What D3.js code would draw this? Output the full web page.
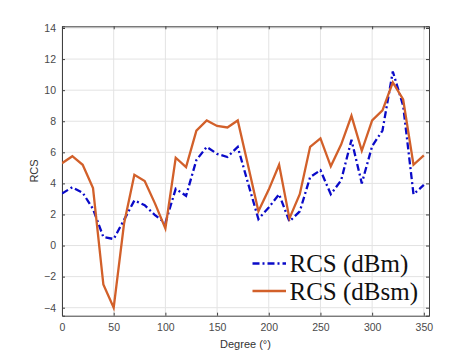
<!DOCTYPE html>
<html><head><meta charset="utf-8">
<script src="https://cdn.jsdelivr.net/npm/d3@7"></script>
<style>body{margin:0;background:#fff;} svg{display:block;}</style>
</head><body>
<svg id="c" width="474" height="355"></svg>
<script>
const degrees = [0,10,20,30,40,50,60,70,80,90,100,110,120,130,140,150,160,170,180,190,200,210,220,230,240,250,260,270,280,290,300,310,320,330,340,350];
const rcsDbm  = [3.35,3.75,3.4,2.35,0.55,0.42,1.65,2.9,2.6,1.95,1.45,3.65,3.2,5.5,6.35,5.9,5.7,6.35,4.0,1.7,2.45,3.3,1.55,2.2,4.4,4.85,3.3,4.2,6.8,4.0,6.4,7.4,11.2,9.0,3.3,3.9];
const rcsDbsm = [5.3,5.75,5.2,3.7,-2.5,-4.0,1.4,4.55,4.15,2.7,1.1,5.65,5.05,7.4,8.05,7.7,7.6,8.05,5.15,2.2,3.6,5.2,1.75,3.3,6.35,6.9,5.1,6.5,8.35,6.1,8.05,8.7,10.5,9.4,5.2,5.8];
const xTicks = [0,50,100,150,200,250,300,350];
const yTicks = [-4,-2,0,2,4,6,8,10,12,14];
const seriesNames = ["RCS (dBm)","RCS (dBsm)"];

const svg = d3.select("#c");
const L=62, R=429, T=26.3, B=315.7;
const x = d3.scaleLinear().domain([0,355]).range([L,R]);
const y = d3.scaleLinear().domain([-4.515,14.11]).range([B,T]);
const font = "'Liberation Sans', Arial, sans-serif";

// grid
const g = svg.append("g");
g.selectAll(".gx").data(xTicks).enter().append("line")
  .attr("x1",d=>x(d)).attr("x2",d=>x(d)).attr("y1",T).attr("y2",B)
  .attr("stroke","#e3e3e3").attr("stroke-width",1);
g.selectAll(".gy").data(yTicks).enter().append("line")
  .attr("y1",d=>y(d)).attr("y2",d=>y(d)).attr("x1",L).attr("x2",R)
  .attr("stroke","#e3e3e3").attr("stroke-width",1);

// axes (ticks inward)
const axB = d3.axisBottom(x).tickValues(xTicks).tickSize(-3).tickPadding(8);
const axL = d3.axisLeft(y).tickValues(yTicks).tickSize(-3).tickPadding(6);
const axT = d3.axisTop(x).tickValues(xTicks).tickSize(-3).tickFormat("");
const axR = d3.axisRight(y).tickValues(yTicks).tickSize(-3).tickFormat("");
function style(sel){
  sel.selectAll("path").attr("stroke","#404040");
  sel.selectAll("line").attr("stroke","#404040");
  sel.selectAll("text").attr("fill","#4a4a4a").style("font-family",font).style("font-size","10.5px");
}
svg.append("g").attr("transform",`translate(0,${B})`).call(axB).call(style);
svg.append("g").attr("transform",`translate(${L},0)`).call(axL).call(style);
svg.append("g").attr("transform",`translate(0,${T})`).call(axT).call(style);
svg.append("g").attr("transform",`translate(${R},0)`).call(axR).call(style);

// lines
const colors = ["#0a0ac8","#d2602a"];
const dashes = ["7,3,2,3",null];
const allSeries = [rcsDbm, rcsDbsm];
const line = d3.line().x((d,i)=>x(degrees[i])).y(d=>y(d));
svg.append("clipPath").attr("id","pc").append("rect")
  .attr("x",L).attr("y",T).attr("width",R-L).attr("height",B-T);
allSeries.forEach((s,k)=>{
  svg.append("path").datum(s).attr("d",line)
    .attr("fill","none").attr("stroke",colors[k]).attr("stroke-width",2.3)
    .attr("stroke-linejoin","miter").attr("clip-path","url(#pc)")
    .attr("stroke-dasharray",dashes[k]);
});

// labels
svg.append("text").attr("x",(L+R)/2).attr("y",348).attr("text-anchor","middle")
  .style("font-family",font).style("font-size","11px").attr("fill","#333").text("Degree (°)");
svg.append("text").attr("transform",`translate(38,${(T+B)/2}) rotate(-90)`).attr("text-anchor","middle")
  .style("font-family",font).style("font-size","11px").attr("fill","#333").text("RCS");

// legend
const leg = svg.append("g");
const legY = [263.5, 291];
seriesNames.forEach((n,k)=>{
  leg.append("line").attr("x1",252.5).attr("x2",286).attr("y1",legY[k]).attr("y2",legY[k])
    .attr("stroke",colors[k]).attr("stroke-width",2.3).attr("stroke-dasharray",dashes[k]);
  leg.append("text").attr("x",289.5).attr("y",legY[k]+8.5)
    .style("font-family","'Liberation Serif','Times New Roman',serif").style("font-size","25px")
    .attr("fill","#111").text(n);
});
</script>
</body></html>
